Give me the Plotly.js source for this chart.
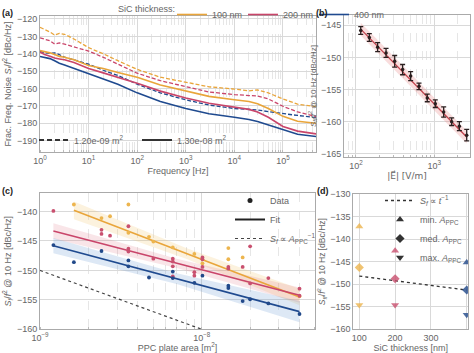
<!DOCTYPE html>
<html><head><meta charset="utf-8">
<script src="https://cdn.plot.ly/plotly-3.0.1.min.js"></script>
<style>html,body{margin:0;padding:0;background:#fff}#chart{width:474px;height:353px}</style>
</head><body><div id="chart"></div>
<script>
// ---------- Panel (a): fractional frequency noise spectra ----------
const freq = [1, 1.25, 1.6, 2, 2.5, 3.2, 5, 10, 20, 40, 100, 300, 1000, 3000, 10000, 20000, 30000, 50000, 100000, 200000, 480000];
const a100dash = [-124.8, -126, -127.5, -129.3, -128.3, -128.8, -131.5, -136.5, -140, -144, -149, -153.5, -156.5, -159, -160.3, -161.3, -160.8, -162.5, -166, -169, -170.4];
const a200dash = [-130.9, -131.5, -132.5, -134.4, -133.8, -134.5, -136, -138.5, -142, -146, -151.2, -155.5, -159, -162, -163.5, -164.2, -164.3, -166, -170.2, -173.5, -176.1];
const a400dash = [-138.5, -139.5, -139.8, -139.5, -140.5, -142, -143.5, -146, -149.5, -152.5, -157.5, -162.5, -166.5, -169.5, -171.5, -172, -172.3, -173.3, -174.2, -175.5, -176.7];
const a100solid = [-138.2, -138.7, -139.5, -140.5, -141.5, -142, -143.5, -146.8, -148.5, -150.8, -153.5, -158, -161.5, -164.5, -166.5, -167.5, -168.8, -171.5, -176, -178.8, -180];
const a200solid = [-139, -140.5, -141.5, -142.5, -143, -143.5, -145, -148.5, -151, -153.5, -157, -161.5, -165.5, -168.5, -170.5, -172, -173.5, -176.5, -181.8, -184.5, -186.1];
const a400solid = [-141.6, -142, -142.8, -144, -145.5, -146.5, -148.5, -151.6, -154.5, -157.5, -162.5, -167.5, -171.5, -174.5, -176.5, -177.8, -179, -181, -183.8, -186.3, -187.6];
const thicknessNames = ['100 nm', '200 nm', '400 nm'];
const areaNames = ['1.20e-09 m<sup>2</sup>', '1.30e-08 m<sup>2</sup>'];
const aXTickVals = [1, 10, 100, 1000, 10000, 100000];
const aXTickText = ['10<sup>0</sup>', '10<sup>1</sup>', '10<sup>2</sup>', '10<sup>3</sup>', '10<sup>4</sup>', '10<sup>5</sup>'];

// ---------- Panel (b): noise vs field ----------
const bField = [115, 148, 189, 242, 312, 394, 499, 638, 813, 1030, 1318, 1667, 2090, 2594];
const bNoise = [-145.8, -146.9, -148.4, -149.3, -150.6, -151.9, -152.9, -154.5, -156.3, -157.2, -158.5, -160.0, -160.7, -162.1];
const bErr = [0.6, 0.6, 0.7, 0.7, 0.9, 0.8, 0.7, 0.5, 0.6, 0.6, 0.8, 0.6, 0.7, 0.9];
const bFitField = [115, 2594];
const bFitNoise = [-145.6, -162.4];
const bFitLow = [-146.6, -163.4];
const bFitHigh = [-144.6, -161.4];
const bXTickVals = [100, 1000];
const bXTickText = ['10<sup>2</sup>', '10<sup>3</sup>'];

// ---------- Panel (c): noise vs PPC plate area ----------
const c100Area = [1.62e-9, 2.40e-9, 2.71e-9, 3.52e-9, 3.52e-9, 4.72e-9, 5.02e-9, 6.62e-9, 9.0e-9, 1.01e-8, 1.46e-8, 1.46e-8, 1.79e-8, 4.02e-8];
const c100Noise = [-138.8, -141.1, -140.8, -138.8, -143.6, -144.3, -145.1, -146.1, -147.2, -148.8, -146.2, -148.1, -147.8, -154.4];
const c200Area = [1.21e-9, 2.40e-9, 2.40e-9, 2.71e-9, 3.52e-9, 3.52e-9, 3.52e-9, 5.02e-9, 6.62e-9, 6.62e-9, 6.62e-9, 6.62e-9, 9.0e-9, 9.0e-9, 1.01e-8, 1.01e-8, 1.01e-8, 1.46e-8, 1.46e-8, 1.79e-8, 1.99e-8, 1.99e-8, 2.58e-8, 4.02e-8, 4.02e-8];
const c200Noise = [-139.9, -143.1, -143.8, -144.1, -142.5, -146.3, -146.8, -148.0, -148.0, -148.5, -149.3, -151.0, -150.3, -150.9, -147.8, -148.1, -149.4, -149.4, -149.7, -149.4, -145.9, -152.2, -151.3, -153.1, -154.3];
const c400Area = [1.21e-9, 1.62e-9, 2.40e-9, 3.52e-9, 3.52e-9, 4.72e-9, 6.62e-9, 6.62e-9, 9.0e-9, 1.01e-8, 1.46e-8, 1.46e-8, 1.79e-8, 1.99e-8, 2.58e-8, 4.02e-8];
const c400Noise = [-145.7, -148.6, -146.7, -148.3, -149.3, -151.2, -150.2, -151.3, -152.1, -150.9, -152.6, -153.0, -155.2, -154.9, -155.6, -157.4];
const c100FitArea = [1.62e-9, 8e-9, 4.02e-8];
const c100Fit = [-139.8, -147.1, -154.5];
const c100FitLow = [-141.3, -148.0, -155.9];
const c100FitHigh = [-138.3, -146.2, -153.1];
const c200FitArea = [1.21e-9, 7e-9, 4.02e-8];
const c200Fit = [-143.3, -148.8, -154.2];
const c200FitLow = [-144.6, -149.6, -155.5];
const c200FitHigh = [-142.0, -148.0, -152.9];
const c400FitArea = [1.21e-9, 7e-9, 4.02e-8];
const c400Fit = [-145.8, -151.4, -157.0];
const c400FitLow = [-147.1, -152.3, -158.8];
const c400FitHigh = [-144.5, -150.5, -155.2];
const cRefArea = [1e-9, 1e-8];
const cRefNoise = [-150, -160];
const cXTickVals = [1e-9, 1e-8];
const cXTickText = ['10<sup>\u22129</sup>', '10<sup>\u22128</sup>'];

// ---------- Panel (d): noise vs SiC thickness ----------
const dThickness = [100, 200, 400];
const dMinArea = [-137.2, -142.6, -145.2];
const dMedArea = [-146.3, -148.8, -151.3];
const dMaxArea = [-154.6, -154.6, -156.8];
const dRefThickness = [100, 400];
const dRefNoise = [-148.2, -151.3];
const dXTickVals = [100, 200, 300, 400];

const colors = ['#E9A53A', '#C9456A', '#1F4A8F'];
const pointColors = ['#EDB54E', '#C9506F', '#21498A'];
const bandColors = ['rgba(240,190,90,0.20)', 'rgba(222,110,130,0.18)', 'rgba(100,150,210,0.22)'];
const FONT = 'Liberation Sans, Arial, sans-serif';
const TXT = '#666';

const traces = [];
// Panel a
const aDash = [a100dash, a200dash, a400dash];
const aSolid = [a100solid, a200solid, a400solid];
for (let i = 0; i < 3; i++) {
  traces.push({x: freq, y: aDash[i], type: 'scatter', mode: 'lines', xaxis: 'x', yaxis: 'y',
    line: {color: colors[i], width: 1.3, dash: '4px,2px'}, showlegend: false, hoverinfo: 'skip'});
}
for (let i = 0; i < 3; i++) {
  traces.push({x: freq, y: aSolid[i], type: 'scatter', mode: 'lines', xaxis: 'x', yaxis: 'y',
    line: {color: colors[i], width: 1.6}, name: thicknessNames[i], legend: 'legend', showlegend: true, legendrank: i + 1});
}
traces.push({x: [null], y: [null], type: 'scatter', mode: 'lines', xaxis: 'x', yaxis: 'y',
  line: {color: '#333', width: 2, dash: '5px,3px'}, name: areaNames[0], legend: 'legend2', legendrank: 1});
traces.push({x: [null], y: [null], type: 'scatter', mode: 'lines', xaxis: 'x', yaxis: 'y',
  line: {color: '#333', width: 2}, name: areaNames[1], legend: 'legend2', legendrank: 2});

// Panel b
traces.push({x: bFitField, y: bFitLow, type: 'scatter', mode: 'lines', xaxis: 'x2', yaxis: 'y2',
  line: {width: 0, color: 'rgba(0,0,0,0)'}, showlegend: false, hoverinfo: 'skip'});
traces.push({x: bFitField, y: bFitHigh, type: 'scatter', mode: 'lines', xaxis: 'x2', yaxis: 'y2', fill: 'tonexty',
  fillcolor: 'rgba(232,120,120,0.25)', line: {width: 0, color: 'rgba(0,0,0,0)'}, showlegend: false, hoverinfo: 'skip'});
traces.push({x: bFitField, y: bFitNoise, type: 'scatter', mode: 'lines', xaxis: 'x2', yaxis: 'y2',
  line: {color: '#C2414B', width: 1.3}, showlegend: false});
traces.push({x: bField, y: bNoise, type: 'scatter', mode: 'markers', xaxis: 'x2', yaxis: 'y2',
  marker: {color: '#2a1f1f', size: 3.5},
  error_y: {type: 'data', array: bErr, visible: true, color: '#2a1f1f', thickness: 1.3, width: 2.5},
  showlegend: false});

// Panel c
const cA = [c100Area, c200Area, c400Area], cN = [c100Noise, c200Noise, c400Noise];
const cFA = [c100FitArea, c200FitArea, c400FitArea], cF = [c100Fit, c200Fit, c400Fit];
const cFL = [c100FitLow, c200FitLow, c400FitLow], cFH = [c100FitHigh, c200FitHigh, c400FitHigh];
for (let i = 0; i < 3; i++) {
  traces.push({x: cFA[i], y: cFL[i], type: 'scatter', mode: 'lines', xaxis: 'x3', yaxis: 'y3',
    line: {width: 0, color: 'rgba(0,0,0,0)'}, showlegend: false, hoverinfo: 'skip'});
  traces.push({x: cFA[i], y: cFH[i], type: 'scatter', mode: 'lines', xaxis: 'x3', yaxis: 'y3', fill: 'tonexty',
    fillcolor: bandColors[i], line: {width: 0, color: 'rgba(0,0,0,0)'}, showlegend: false, hoverinfo: 'skip'});
}
for (let i = 0; i < 3; i++) {
  traces.push({x: cFA[i], y: cF[i], type: 'scatter', mode: 'lines', xaxis: 'x3', yaxis: 'y3',
    line: {color: colors[i], width: 1.6}, showlegend: false});
}
for (let i = 0; i < 3; i++) {
  traces.push({x: cA[i], y: cN[i], type: 'scatter', mode: 'markers', xaxis: 'x3', yaxis: 'y3',
    marker: {color: pointColors[i], size: 3.8}, showlegend: false});
}
traces.push({x: cRefArea, y: cRefNoise, type: 'scatter', mode: 'lines', xaxis: 'x3', yaxis: 'y3',
  line: {color: '#444', width: 1.2, dash: 'dot'}, name: '<i>S<sub>f</sub></i> \u221d <i>A</i><sub>PPC</sub><sup>\u22121</sup>', legend: 'legend3', showlegend: true, legendrank: 3});
traces.push({x: [null], y: [null], type: 'scatter', mode: 'markers', xaxis: 'x3', yaxis: 'y3',
  marker: {color: '#222', size: 5}, name: 'Data', legend: 'legend3', legendrank: 1});
traces.push({x: [null], y: [null], type: 'scatter', mode: 'lines', xaxis: 'x3', yaxis: 'y3',
  line: {color: '#222', width: 2}, name: 'Fit', legend: 'legend3', legendrank: 2});

// Panel d
traces.push({x: dRefThickness, y: dRefNoise, type: 'scatter', mode: 'lines', xaxis: 'x4', yaxis: 'y4',
  line: {color: '#333', width: 1.3, dash: 'dot'}, name: '<i>S<sub>f</sub></i> \u221d <i>t</i><sup>\u22121</sup>', legend: 'legend4', legendrank: 1});
for (let i = 0; i < 3; i++) {
  traces.push({x: [dThickness[i], dThickness[i], dThickness[i]], y: [dMinArea[i], dMedArea[i], dMaxArea[i]],
    type: 'scatter', mode: 'markers', xaxis: 'x4', yaxis: 'y4', opacity: 0.8,
    marker: {color: pointColors[i], size: 7, symbol: ['triangle-up', 'diamond', 'triangle-down']}, showlegend: false});
}
const dLegNames = ['min. <i>A</i><sub>PPC</sub>', 'med. <i>A</i><sub>PPC</sub>', 'max. <i>A</i><sub>PPC</sub>'];
const dLegSym = ['triangle-up', 'diamond', 'triangle-down'];
for (let k = 0; k < 3; k++) {
  traces.push({x: [null], y: [null], type: 'scatter', mode: 'markers', xaxis: 'x4', yaxis: 'y4',
    marker: {color: '#333', size: 7, symbol: dLegSym[k]}, name: dLegNames[k], legend: 'legend4', legendrank: 2 + k});
}

function ax(extra) {
  return Object.assign({
    showline: true, mirror: true, linecolor: '#aaa', linewidth: 1,
    showgrid: true, gridcolor: '#d9d9d9', gridwidth: 1, zeroline: false,
    ticks: '', tickfont: {family: FONT, size: 9, color: TXT}, automargin: false
  }, extra);
}
const minorLog = {showgrid: true, gridcolor: '#e6e6e6', griddash: 'dash', gridwidth: 1, dtick: 'D1', ticks: 'inside', ticklen: 2, tickcolor: '#bbb'};
function ttl(text, standoff, fam, size) { return {text: text, font: {family: fam || FONT, size: size || 9, color: TXT}, standoff: standoff}; }
const W = 474, H = 353;
const px = v => v / W, py = v => 1 - v / H;
const legFont = {family: FONT, size: 9, color: TXT};

const layout = {
  width: W, height: H, margin: {l: 0, r: 0, t: 0, b: 0},
  paper_bgcolor: '#fff', plot_bgcolor: '#fff',
  font: {family: FONT, size: 9, color: TXT},
  xaxis: ax({type: 'log', domain: [px(40), px(316)], anchor: 'y', range: [0, 5.68],
    tickmode: 'array', tickvals: aXTickVals, ticktext: aXTickText, minor: minorLog,
    title: ttl('Frequency [Hz]', 2)}),
  yaxis: ax({domain: [py(152), py(16)], anchor: 'x', range: [-196.5, -118.3], dtick: 10,
    title: ttl('Frac. Freq. Noise <i>S<sub>f</sub></i>/<i>f</i><sup>2</sup> [dBc/Hz]', 3)}),
  xaxis2: ax({type: 'log', domain: [px(344), px(470)], anchor: 'y2', range: [1.847, 3.456],
    tickmode: 'array', tickvals: bXTickVals, ticktext: bXTickText, minor: minorLog,
    title: ttl('|E\u20D7| [V/m]', 2, 'DejaVu Sans, Liberation Sans, sans-serif')}),
  yaxis2: ax({domain: [py(157), py(15)], anchor: 'x2', range: [-165.5, -143.4], dtick: 5,
    title: ttl('<i>S<sub>ff</sub></i>/<i>f</i><sup>2</sup> @ 10 Hz [dBc/Hz]', 3, null, 8)}),
  xaxis3: ax({type: 'log', domain: [px(40), px(315)], anchor: 'y3', range: [-9, -7.3],
    tickmode: 'array', tickvals: cXTickVals, ticktext: cXTickText, minor: minorLog,
    title: ttl('PPC plate area [m<sup>2</sup>]', 2)}),
  yaxis3: ax({domain: [py(329.3), py(193.3)], anchor: 'x3', range: [-160, -136.9], dtick: 5,
    title: ttl('<i>S<sub>f</sub></i>/<i>f</i><sup>2</sup> @ 10 Hz [dBc/Hz]', 3)}),
  xaxis4: ax({domain: [px(353.3), px(468.3)], anchor: 'y4', range: [83.2, 404.5],
    tickmode: 'array', tickvals: dXTickVals,
    title: ttl('SiC thickness [nm]', 2)}),
  yaxis4: ax({domain: [py(329.3), py(194)], anchor: 'x4', range: [-160, -130], dtick: 5,
    title: ttl('<i>S<sub>ff</sub></i>/<i>f</i><sup>2</sup> @ 10 Hz [dBc/Hz]', 3, null, 8.5)}),
  legend: {orientation: 'h', x: px(172), y: 1, xanchor: 'left', yanchor: 'top', traceorder: 'normal',
    entrywidth: 26, entrywidthmode: 'pixels', bgcolor: 'rgba(0,0,0,0)', font: legFont},
  legend2: {orientation: 'h', x: px(34), y: py(140), xanchor: 'left', yanchor: 'middle', traceorder: 'normal',
    entrywidth: 58, entrywidthmode: 'pixels', bgcolor: 'rgba(0,0,0,0)', font: legFont},
  legend3: {orientation: 'v', x: px(230), y: py(186), xanchor: 'left', yanchor: 'top',
    bgcolor: 'rgba(0,0,0,0)', font: legFont, traceorder: 'normal'},
  legend4: {orientation: 'v', x: px(380), y: py(186), xanchor: 'left', yanchor: 'top',
    bgcolor: 'rgba(0,0,0,0)', font: legFont, traceorder: 'normal'},
  annotations: [
    {text: 'SiC thickness:', x: px(116), y: py(9), xref: 'paper', yref: 'paper', xanchor: 'left', yanchor: 'middle', showarrow: false, font: legFont},
    {text: '<b>(a)</b>', x: 0, y: py(13), xref: 'paper', yref: 'paper', xanchor: 'left', yanchor: 'middle', showarrow: false, font: {family: FONT, size: 9, color: '#222'}},
    {text: '<b>(b)</b>', x: px(314), y: py(13), xref: 'paper', yref: 'paper', xanchor: 'left', yanchor: 'middle', showarrow: false, font: {family: FONT, size: 9, color: '#222'}},
    {text: '<b>(c)</b>', x: 0, y: py(191), xref: 'paper', yref: 'paper', xanchor: 'left', yanchor: 'middle', showarrow: false, font: {family: FONT, size: 9, color: '#222'}},
    {text: '<b>(d)</b>', x: px(315), y: py(191), xref: 'paper', yref: 'paper', xanchor: 'left', yanchor: 'middle', showarrow: false, font: {family: FONT, size: 9, color: '#222'}}
  ]
};
Plotly.newPlot('chart', traces, layout, {displayModeBar: false, staticPlot: true});
</script></body></html>
